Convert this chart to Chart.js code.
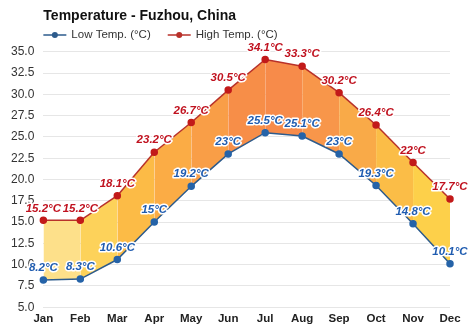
<!DOCTYPE html>
<html>
<head>
<meta charset="utf-8">
<script src="https://cdn.jsdelivr.net/npm/chart.js@4.4.1/dist/chart.umd.min.js"></script>
<style>
  html, body { margin: 0; padding: 0; background: #fff; }
  #wrap { width: 474px; height: 331px; }
</style>
</head>
<body>
<div id="wrap"><canvas id="tempChart"></canvas></div>
<script>
/* Fuzhou monthly temperatures */
const months = ['Jan', 'Feb', 'Mar', 'Apr', 'May', 'Jun', 'Jul', 'Aug', 'Sep', 'Oct', 'Nov', 'Dec'];
const lowTemps = [8.2, 8.3, 10.6, 15, 19.2, 23, 25.5, 25.1, 23, 19.3, 14.8, 10.1];
const highTemps = [15.2, 15.2, 18.1, 23.2, 26.7, 30.5, 34.1, 33.3, 30.2, 26.4, 22, 17.7];

// one fill colour per month-to-month band
const bandColors = ['#fde08a', '#fdd25a', '#fcbb46', '#fbac45', '#f99e47', '#f78e48',
                    '#f78b4a', '#f8964a', '#f9aa48', '#fbbd47', '#fdd04a'];

const LOW_LINE = '#2d5b8c', LOW_TEXT = '#1f5cb0';
const HIGH_LINE = '#b8312a', HIGH_TEXT = '#c0121f';
const FONT = '"Liberation Sans", Arial, sans-serif';

// value labels above every point
const valueLabels = {
    id: 'valueLabels',
    afterDatasetsDraw(chart) {
        const ctx = chart.ctx;
        ctx.save();
        ctx.font = 'italic bold 11.5px ' + FONT;
        ctx.textAlign = 'center';
        ctx.textBaseline = 'middle';
        ctx.lineJoin = 'round';
        chart.data.datasets.forEach((ds, i) => {
            const meta = chart.getDatasetMeta(i);
            meta.data.forEach((pt, j) => {
                const txt = ds.data[j] + '°C';
                ctx.lineWidth = 3;
                ctx.strokeStyle = '#fff';
                ctx.strokeText(txt, pt.x, pt.y - 12);
                ctx.fillStyle = ds.labelColor;
                ctx.fillText(txt, pt.x, pt.y - 12);
            });
        });
        ctx.restore();
    }
};

// legend: short line with a dot, then the series name
const lineLegend = {
    id: 'lineLegend',
    afterDraw(chart) {
        const ctx = chart.ctx;
        const y = 35;
        let x = chart.chartArea.left;
        ctx.save();
        ctx.font = '11.5px ' + FONT;
        ctx.textBaseline = 'middle';
        chart.data.datasets.forEach(ds => {
            ctx.strokeStyle = ds.borderColor;
            ctx.lineWidth = 1.5;
            ctx.beginPath(); ctx.moveTo(x, y); ctx.lineTo(x + 23, y); ctx.stroke();
            ctx.fillStyle = ds.borderColor;
            ctx.beginPath(); ctx.arc(x + 11.5, y, 3, 0, Math.PI * 2); ctx.fill();
            ctx.fillStyle = '#333';
            ctx.fillText(ds.label, x + 28, y);
            x += 28 + ctx.measureText(ds.label).width + 17;
        });
        ctx.restore();
    }
};

new Chart(document.getElementById('tempChart'), {
    type: 'line',
    data: {
        labels: months,
        datasets: [
            {
                label: 'Low Temp. (°C)',
                data: lowTemps,
                borderColor: LOW_LINE,
                backgroundColor: LOW_LINE,
                pointBackgroundColor: '#2563a8',
                pointBorderColor: '#2563a8',
                labelColor: LOW_TEXT,
                borderWidth: 1.5,
                pointRadius: 3,
                tension: 0,
                fill: false
            },
            {
                label: 'High Temp. (°C)',
                data: highTemps,
                borderColor: HIGH_LINE,
                backgroundColor: '#fbb046',
                pointBackgroundColor: '#c21a1a',
                pointBorderColor: '#c21a1a',
                labelColor: HIGH_TEXT,
                borderWidth: 1.5,
                pointRadius: 3,
                tension: 0,
                fill: '-1',
                segment: {
                    backgroundColor: c => bandColors[c.p0DataIndex]
                }
            }
        ]
    },
    options: {
        responsive: true,
        maintainAspectRatio: false,
        animation: false,
        layout: { padding: { left: 2, right: 24, top: 4, bottom: 0 } },
        plugins: {
            title: {
                display: true,
                text: 'Temperature - Fuzhou, China',
                align: 'start',
                fullSize: false,
                color: '#111',
                font: { family: FONT, size: 14, weight: 'bold' },
                padding: { top: 4, bottom: 27 }
            },
            legend: { display: false },
            tooltip: { enabled: false }
        },
        scales: {
            x: {
                grid: { display: false, drawTicks: false },
                border: { display: false },
                ticks: {
                    color: '#222',
                    padding: 5,
                    font: { family: FONT, size: 11.5, weight: 'bold' }
                }
            },
            y: {
                min: 5,
                max: 35,
                grid: { color: '#e6e6e6', drawTicks: false },
                border: { display: false },
                ticks: {
                    stepSize: 2.5,
                    padding: 9,
                    color: '#333',
                    callback: v => v.toFixed(1),
                    font: { family: FONT, size: 12 }
                }
            }
        }
    },
    plugins: [valueLabels, lineLegend]
});
</script>
</body>
</html>
